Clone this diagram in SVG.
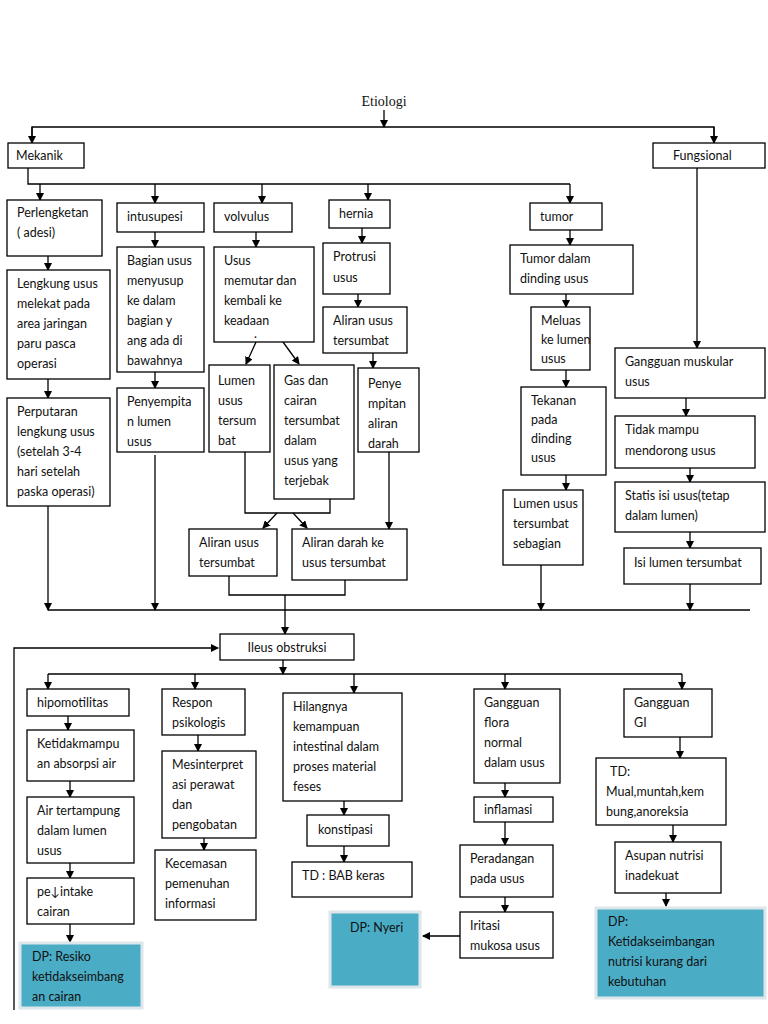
<svg xmlns="http://www.w3.org/2000/svg" width="768" height="1024" viewBox="0 0 768 1024">
<defs>
<marker id="a" markerWidth="8" markerHeight="8" refX="7" refY="4" orient="auto" markerUnits="userSpaceOnUse"><path d="M0,0 L8,4 L0,8 Z" fill="#000"/></marker>
</defs>
<style>
rect{fill:#fff;stroke:#000;stroke-width:1.3}
rect.dp{fill:#4BACC6;stroke:#dde6ea;stroke-width:3}
text{font-family:Lato,"Open Sans",sans-serif;font-size:12.5px;fill:#111}
.c line,.c polyline{stroke:#000;stroke-width:1.3;fill:none}
.ar{marker-end:url(#a)}
</style>
<rect width="768" height="1024" style="fill:#fff;stroke:none"/>
<text x="384" y="106" text-anchor="middle" style="font-family:'Liberation Serif',serif;font-size:14px">Etiologi</text>
<g class="c">
<line class="ar" x1="384" y1="110" x2="384" y2="127"/>
<polyline points="32,142 32,127 714,127 714,142"/>
<line class="ar" x1="32" y1="127" x2="32" y2="143"/>
<line class="ar" x1="714" y1="127" x2="714" y2="143"/>
<polyline points="28,168 28,184 570,184"/>
<line class="ar" x1="40" y1="184" x2="40" y2="200"/>
<line class="ar" x1="155" y1="184" x2="155" y2="203"/>
<line class="ar" x1="262" y1="184" x2="262" y2="203"/>
<line class="ar" x1="368" y1="184" x2="368" y2="200"/>
<line class="ar" x1="570" y1="184" x2="570" y2="203"/>
<line class="ar" x1="48" y1="256" x2="48" y2="270"/>
<line class="ar" x1="48" y1="379" x2="48" y2="398"/>
<line class="ar" x1="48" y1="506" x2="48" y2="610"/>
<line class="ar" x1="155" y1="232" x2="155" y2="247"/>
<line class="ar" x1="155" y1="372" x2="155" y2="388"/>
<line class="ar" x1="155" y1="455" x2="155" y2="610"/>
<line class="ar" x1="256" y1="232" x2="256" y2="247"/>
<line class="ar" x1="256" y1="342" x2="246" y2="364"/>
<line class="ar" x1="283" y1="342" x2="299" y2="364"/>
<line class="ar" x1="362" y1="228" x2="362" y2="243"/>
<line class="ar" x1="358" y1="294" x2="358" y2="307"/>
<line class="ar" x1="373" y1="353" x2="373" y2="368"/>
<line class="ar" x1="389" y1="452" x2="389" y2="529"/>
<polyline points="245,452 245,513 330,513 330,499"/>
<line class="ar" x1="277" y1="513" x2="263" y2="528"/>
<line class="ar" x1="293" y1="513" x2="307" y2="528"/>
<polyline points="229,576 229,595 345,595 345,580"/>
<line class="ar" x1="285" y1="595" x2="285" y2="634"/>
<line x1="48" y1="610" x2="750" y2="610"/>
<line class="ar" x1="570" y1="230" x2="570" y2="245"/>
<line class="ar" x1="566" y1="294" x2="566" y2="307"/>
<line class="ar" x1="566" y1="370" x2="566" y2="387"/>
<line class="ar" x1="566" y1="475" x2="566" y2="490"/>
<line class="ar" x1="541" y1="565" x2="541" y2="610"/>
<line class="ar" x1="697" y1="168" x2="697" y2="348"/>
<line class="ar" x1="686" y1="398" x2="686" y2="416"/>
<line class="ar" x1="690" y1="468" x2="690" y2="482"/>
<line class="ar" x1="690" y1="532" x2="690" y2="548"/>
<line class="ar" x1="690" y1="584" x2="690" y2="610"/>
<polyline class="ar" points="14,1010 14,648 218,648"/>
<line class="ar" x1="283" y1="660" x2="283" y2="674"/>
<line x1="48" y1="674" x2="682" y2="674"/>
<line class="ar" x1="48" y1="674" x2="48" y2="689"/>
<line class="ar" x1="195" y1="674" x2="195" y2="689"/>
<line class="ar" x1="354" y1="674" x2="354" y2="693"/>
<line class="ar" x1="505" y1="674" x2="505" y2="689"/>
<line class="ar" x1="682" y1="674" x2="682" y2="689"/>
<line class="ar" x1="68" y1="716" x2="68" y2="730"/>
<line class="ar" x1="70" y1="781" x2="70" y2="797"/>
<line class="ar" x1="70" y1="863" x2="70" y2="878"/>
<line class="ar" x1="70" y1="924" x2="70" y2="942"/>
<line class="ar" x1="198" y1="735" x2="198" y2="751"/>
<line class="ar" x1="204" y1="838" x2="204" y2="850"/>
<line class="ar" x1="344" y1="801" x2="344" y2="815"/>
<line class="ar" x1="344" y1="846" x2="344" y2="862"/>
<line class="ar" x1="505" y1="783" x2="505" y2="797"/>
<line class="ar" x1="505" y1="822" x2="505" y2="845"/>
<line class="ar" x1="505" y1="897" x2="505" y2="912"/>
<line class="ar" x1="460" y1="936" x2="423" y2="936"/>
<line class="ar" x1="680" y1="737" x2="680" y2="758"/>
<line class="ar" x1="673" y1="825" x2="673" y2="842"/>
<line class="ar" x1="666" y1="893" x2="666" y2="906"/>
</g>
<g id="mekanik"><rect x="8" y="143" width="76" height="25"/><text x="16" y="160">Mekanik</text></g>
<g id="fungsional"><rect x="653" y="143" width="112" height="25"/><text x="673" y="160">Fungsional</text></g>
<g id="perlengketan"><rect x="7" y="200" width="95" height="56"/><text x="17" y="217">Perlengketan</text><text x="17" y="237">( adesi)</text></g>
<g id="intusupesi"><rect x="117" y="203" width="87" height="29"/><text x="127" y="221">intusupesi</text></g>
<g id="volvulus"><rect x="214" y="203" width="78" height="29"/><text x="224" y="221">volvulus</text></g>
<g id="hernia"><rect x="329" y="200" width="61" height="28"/><text x="339" y="218">hernia</text></g>
<g id="lengkung"><rect x="7" y="270" width="103" height="109"/><text x="17" y="288">Lengkung usus</text><text x="17" y="308">melekat pada</text><text x="17" y="328">area jaringan</text><text x="17" y="348">paru pasca</text><text x="17" y="368">operasi</text></g>
<g id="bagian"><rect x="117" y="247" width="87" height="125"/><text x="127" y="265">Bagian usus</text><text x="127" y="285">menyusup</text><text x="127" y="305">ke dalam</text><text x="127" y="325">bagian y</text><text x="127" y="345">ang ada di</text><text x="127" y="365">bawahnya</text></g>
<g id="usus-memutar"><rect x="214" y="247" width="100" height="95"/><text x="224" y="265">Usus</text><text x="224" y="285">memutar dan</text><text x="224" y="305">kembali ke</text><text x="224" y="325">keadaan</text><text x="254" y="338">.</text></g>
<g id="protrusi"><rect x="323" y="243" width="67" height="51"/><text x="333" y="261">Protrusi</text><text x="333" y="282">usus</text></g>
<g id="aliran-hernia"><rect x="323" y="307" width="84" height="46"/><text x="333" y="325">Aliran usus</text><text x="333" y="345">tersumbat</text></g>
<g id="perputaran"><rect x="7" y="398" width="103" height="108"/><text x="17" y="416">Perputaran</text><text x="17" y="436">lengkung usus</text><text x="17" y="456">(setelah 3-4</text><text x="17" y="476">hari setelah</text><text x="17" y="496">paska operasi)</text></g>
<g id="penyempitan-lumen"><rect x="117" y="388" width="87" height="64"/><text x="127" y="406">Penyempita</text><text x="127" y="426">n lumen</text><text x="127" y="446">usus</text></g>
<g id="lumen-usus"><rect x="209" y="365" width="61" height="87"/><text x="218" y="385">Lumen</text><text x="218" y="405">usus</text><text x="218" y="425">tersum</text><text x="218" y="445">bat</text></g>
<g id="gas"><rect x="274" y="365" width="80" height="134"/><text x="284" y="385">Gas dan</text><text x="284" y="405">cairan</text><text x="284" y="425">tersumbat</text><text x="284" y="445">dalam</text><text x="284" y="465">usus yang</text><text x="284" y="485">terjebak</text></g>
<g id="penyempitan-aliran"><rect x="358" y="368" width="61" height="84"/><text x="368" y="388">Penye</text><text x="368" y="408">mpitan</text><text x="368" y="428">aliran</text><text x="368" y="448">darah</text></g>
<g id="aliran-usus"><rect x="189" y="529" width="88" height="47"/><text x="199" y="547">Aliran usus</text><text x="199" y="567">tersumbat</text></g>
<g id="aliran-darah"><rect x="292" y="529" width="115" height="51"/><text x="302" y="547">Aliran darah ke</text><text x="302" y="567">usus tersumbat</text></g>
<g id="tumor"><rect x="530" y="203" width="72" height="27"/><text x="540" y="221">tumor</text></g>
<g id="tumor-dalam"><rect x="510" y="245" width="123" height="49"/><text x="520" y="263">Tumor dalam</text><text x="520" y="283">dinding usus</text></g>
<g id="meluas"><rect x="531" y="307" width="59" height="63"/><text x="541" y="325">Meluas</text><text x="541" y="344">ke lumen</text><text x="541" y="363">usus</text></g>
<g id="tekanan"><rect x="521" y="387" width="85" height="88"/><text x="531" y="405">Tekanan</text><text x="531" y="424">pada</text><text x="531" y="443">dinding</text><text x="531" y="462">usus</text></g>
<g id="lumen-sebagian"><rect x="503" y="490" width="80" height="75"/><text x="513" y="508">Lumen usus</text><text x="513" y="528">tersumbat</text><text x="513" y="548">sebagian</text></g>
<g id="muskular"><rect x="615" y="348" width="150" height="50"/><text x="625" y="366">Gangguan muskular</text><text x="625" y="386">usus</text></g>
<g id="tidak-mampu"><rect x="615" y="416" width="140" height="52"/><text x="625" y="434">Tidak mampu</text><text x="625" y="455">mendorong usus</text></g>
<g id="statis"><rect x="615" y="482" width="150" height="50"/><text x="625" y="500">Statis isi usus(tetap</text><text x="625" y="520">dalam lumen)</text></g>
<g id="isi-lumen"><rect x="624" y="548" width="137" height="36"/><text x="634" y="567">Isi lumen tersumbat</text></g>
<g id="ileus"><rect x="220" y="634" width="134" height="26"/><text x="287" y="652" text-anchor="middle">Ileus obstruksi</text></g>
<g id="hipomotilitas"><rect x="27" y="689" width="102" height="27"/><text x="37" y="707">hipomotilitas</text></g>
<g id="ketidakmampu"><rect x="27" y="730" width="107" height="51"/><text x="37" y="748">Ketidakmampu</text><text x="37" y="768">an absorpsi air</text></g>
<g id="air"><rect x="27" y="797" width="107" height="66"/><text x="37" y="815">Air tertampung</text><text x="37" y="835">dalam lumen</text><text x="37" y="855">usus</text></g>
<g id="intake"><rect x="27" y="878" width="107" height="46"/><text x="37" y="896">pe↓intake</text><text x="37" y="916">cairan</text></g>
<g id="dp-resiko"><rect class="dp" x="20" y="943" width="122" height="65"/><text x="32" y="961">DP: Resiko</text><text x="32" y="981">ketidakseimbang</text><text x="32" y="1001">an cairan</text></g>
<g id="respon"><rect x="162" y="689" width="83" height="46"/><text x="172" y="707">Respon</text><text x="172" y="727">psikologis</text></g>
<g id="mesinterpret"><rect x="162" y="751" width="94" height="87"/><text x="172" y="769">Mesinterpret</text><text x="172" y="789">asi perawat</text><text x="172" y="809">dan</text><text x="172" y="829">pengobatan</text></g>
<g id="kecemasan"><rect x="155" y="850" width="101" height="70"/><text x="165" y="868">Kecemasan</text><text x="165" y="888">pemenuhan</text><text x="165" y="908">informasi</text></g>
<g id="hilangnya"><rect x="283" y="693" width="119" height="108"/><text x="293" y="711">Hilangnya</text><text x="293" y="731">kemampuan</text><text x="293" y="751">intestinal dalam</text><text x="293" y="771">proses material</text><text x="293" y="791">feses</text></g>
<g id="konstipasi"><rect x="307" y="815" width="82" height="31"/><text x="318" y="834">konstipasi</text></g>
<g id="bab-keras"><rect x="292" y="862" width="120" height="35"/><text x="302" y="880">TD : BAB keras</text></g>
<g id="dp-nyeri"><rect class="dp" x="330" y="912" width="90" height="75"/><text x="350" y="932">DP: Nyeri</text></g>
<g id="flora"><rect x="474" y="689" width="86" height="94"/><text x="484" y="707">Gangguan</text><text x="484" y="727">flora</text><text x="484" y="747">normal</text><text x="484" y="767">dalam usus</text></g>
<g id="inflamasi"><rect x="474" y="797" width="79" height="25"/><text x="484" y="814">inflamasi</text></g>
<g id="peradangan"><rect x="460" y="845" width="93" height="52"/><text x="470" y="863">Peradangan</text><text x="470" y="883">pada usus</text></g>
<g id="iritasi"><rect x="460" y="912" width="93" height="46"/><text x="470" y="930">Iritasi</text><text x="470" y="950">mukosa usus</text></g>
<g id="gi"><rect x="624" y="689" width="88" height="48"/><text x="634" y="707">Gangguan</text><text x="634" y="727">GI</text></g>
<g id="td-mual"><rect x="596" y="758" width="130" height="67"/><text x="610" y="776">TD:</text><text x="606" y="796">Mual,muntah,kem</text><text x="606" y="816">bung,anoreksia</text></g>
<g id="asupan"><rect x="615" y="842" width="106" height="51"/><text x="625" y="860">Asupan nutrisi</text><text x="625" y="880">inadekuat</text></g>
<g id="dp-nutrisi"><rect class="dp" x="596" y="908" width="169" height="90"/><text x="608" y="926">DP:</text><text x="608" y="946">Ketidakseimbangan</text><text x="608" y="966">nutrisi kurang dari</text><text x="608" y="986">kebutuhan</text></g>
</svg>
